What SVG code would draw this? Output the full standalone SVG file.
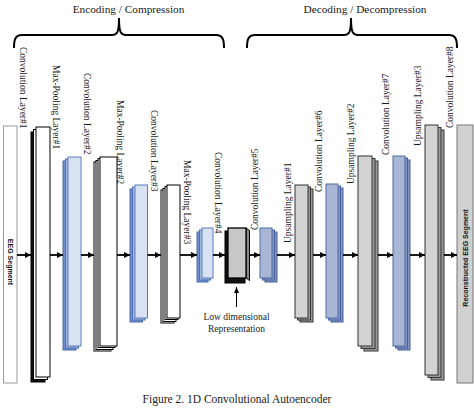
<svg xmlns="http://www.w3.org/2000/svg" width="474" height="408" viewBox="0 0 474 408">
<defs>
<marker id="ah" markerWidth="6" markerHeight="6" refX="6" refY="3" orient="auto" markerUnits="userSpaceOnUse"><path d="M0,0 L6,3 L0,6 z" fill="#000"/></marker>
<marker id="ah2" markerWidth="6" markerHeight="6" refX="6" refY="3" orient="auto" markerUnits="userSpaceOnUse"><path d="M0,0.5 L6,3 L0,5.5 z" fill="#000"/></marker>
</defs>
<style>
.t{font-family:"Liberation Serif","Times New Roman",serif;fill:#1a1a1a}
.title{font-size:11.3px;text-anchor:middle}
.lbl{font-size:9.5px}
.seg{font-family:"Liberation Sans",Arial,sans-serif;font-weight:bold;font-size:7px;text-anchor:middle;fill:#111}
.wb{fill:#fff;stroke:#000;stroke-width:1}
.bb{fill:#111;stroke:#000;stroke-width:1}
.bf{fill:#d9e2f2;stroke:#5a7bbf;stroke-width:1}
.bm{fill:#a3b7df;stroke:#4d6fb3;stroke-width:1}
.bk{fill:#6f8fce;stroke:#4a6aa8;stroke-width:1}
.gf{fill:#d3d3d3;stroke:#333;stroke-width:1}
.gk{fill:#9a9a9a;stroke:#333;stroke-width:1}
.cf{fill:#a9b6d3;stroke:#4f6aa5;stroke-width:1}
.ck{fill:#8394c0;stroke:#44609c;stroke-width:1}
.brace{fill:none;stroke:#000;stroke-width:2}
.conn line{stroke:#000;stroke-width:1.8}
</style>
<rect width="474" height="408" fill="#fff"/>

<g id="headers">
<text class="t title" x="128.5" y="12.5">Encoding / Compression</text>
<path class="brace" d="M14,48 C14,40 15,35 22,35 L112,35 C117,35 119,33 119,18 C119,33 121,35 126,35 L216,35 C223,35 224,40 224,48"/>
<text class="t title" x="365" y="13">Decoding / Decompression</text>
<path class="brace" d="M247,48 C247,40 248,35 255,35 L344,35 C349,35 351,33 351,18 C351,33 353,35 358,35 L449,35 C456,35 457,40 457,48"/>
</g>

<g id="labels" class="t lbl">
<text transform="translate(19.7,47) rotate(90)">Convolution Layer#1</text>
<text transform="translate(52.7,65) rotate(90)">Max-Pooling Layer#1</text>
<text transform="translate(83.7,73) rotate(90)">Convolution Layer#2</text>
<text transform="translate(116.7,100) rotate(90)">Max-Pooling Layer#2</text>
<text transform="translate(150.7,110) rotate(90)">Convolution Layer#3</text>
<text transform="translate(183.7,160) rotate(90)">Max-Pooling Layer#3</text>
<text transform="translate(214.7,152) rotate(90)">Convolution Layer#4</text>
<text transform="translate(258.3,230) rotate(-90)">Convolution Layer#5</text>
<text transform="translate(291.3,243) rotate(-90)">Upsampling Layer#1</text>
<text transform="translate(322.3,192) rotate(-90)">Convolution Layer#6</text>
<text transform="translate(353.8,184) rotate(-90)">Upsampling Layer#2</text>
<text transform="translate(389.3,155) rotate(-90)">Convolution Layer#7</text>
<text transform="translate(421.3,146) rotate(-90)">Upsampling Layer#3</text>
<text transform="translate(453.3,128) rotate(-90)">Convolution Layer#8</text>
</g>

<g id="input">
<rect x="3.5" y="126" width="13.5" height="257" fill="#fff" stroke="#999" stroke-width="1"/>
<text class="seg" transform="translate(8,262) rotate(90)">EEG Segment</text>
</g>

<g id="layer-b">
<rect class="bb" x="31" y="132" width="14" height="250"/>
<rect class="wb" x="33.5" y="129.5" width="14" height="250"/>
<rect class="wb" x="36" y="127" width="14" height="250"/>
</g>

<g id="layer-c">
<rect class="bk" x="63" y="161" width="13" height="189"/>
<rect class="bm" x="65.5" y="159" width="13" height="189"/>
<rect class="bf" x="68" y="157" width="13" height="189"/>
</g>

<g id="layer-d">
<rect class="wb" x="94" y="162" width="17" height="189"/>
<rect class="wb" x="96" y="160.5" width="17" height="189"/>
<rect class="wb" x="98" y="158.5" width="17" height="189"/>
<rect class="wb" x="100" y="157" width="17" height="189"/>
</g>

<g id="layer-e">
<rect class="bk" x="130" y="189" width="12.5" height="133"/>
<rect class="bm" x="132.5" y="187" width="12.5" height="133"/>
<rect class="bf" x="135" y="185" width="12.5" height="133"/>
</g>

<g id="layer-f">
<rect class="wb" x="161" y="190" width="13" height="133"/>
<rect class="wb" x="163" y="188.5" width="13" height="133"/>
<rect class="wb" x="165" y="186.5" width="13" height="133"/>
<rect class="wb" x="167" y="185" width="13" height="133"/>
</g>

<g id="layer-g">
<rect class="bk" x="197" y="232" width="11" height="50"/>
<rect class="bm" x="199.5" y="230" width="11" height="50"/>
<rect class="bf" x="202" y="228" width="11" height="50"/>
</g>

<g id="layer-h">
<rect class="bb" x="225" y="231" width="20" height="52"/>
<polygon points="246,228 249.5,230.5 249.5,280.5 246,278" fill="#8a8a8a" stroke="#000" stroke-width="1"/>
<rect x="228" y="228" width="18" height="50" fill="#c8c8c8" stroke="#000" stroke-width="1.3"/>
</g>

<g id="layer-i">
<rect class="ck" x="265" y="232" width="12" height="50"/>
<rect class="ck" x="262.5" y="230" width="12" height="50"/>
<rect class="cf" x="260" y="228" width="12" height="50"/>
</g>

<g id="layer-j">
<rect class="gk" x="300" y="189" width="13" height="133"/>
<rect class="gk" x="297.5" y="187" width="13" height="133"/>
<rect class="gf" x="295" y="185" width="13" height="133"/>
</g>

<g id="layer-k">
<rect class="ck" x="331" y="188" width="12" height="134"/>
<rect class="ck" x="328.5" y="186" width="12" height="134"/>
<rect class="cf" x="326" y="184" width="12" height="134"/>
</g>

<g id="layer-l">
<rect class="gk" x="364" y="161" width="14" height="190"/>
<rect class="gk" x="361" y="158.5" width="14" height="190"/>
<rect class="gf" x="358" y="156" width="14" height="190"/>
</g>

<g id="layer-m">
<rect class="ck" x="398" y="160" width="12" height="190"/>
<rect class="ck" x="395.5" y="158" width="12" height="190"/>
<rect class="cf" x="393" y="156" width="12" height="190"/>
</g>

<g id="layer-n">
<rect class="gk" x="431" y="130" width="13" height="250"/>
<rect class="gk" x="428" y="127.5" width="13" height="250"/>
<rect class="gf" x="425" y="125" width="13" height="250"/>
</g>

<g id="output">
<rect x="457" y="125" width="16" height="258" fill="#d0d0d0" stroke="#777" stroke-width="1"/>
<text class="seg" transform="translate(467.5,258) rotate(-90)">Reconstructed EEG Segment</text>
</g>

<g id="lowdim-note">
<text class="t" font-size="9.5" text-anchor="middle" x="236.5" y="319.5">Low dimensional</text>
<text class="t" font-size="9.5" text-anchor="middle" x="236.5" y="332">Representation</text>
</g>

<g id="connectors" class="conn">
<line x1="17" y1="255" x2="31" y2="255" marker-end="url(#ah)"/>
<line x1="50" y1="255" x2="63" y2="255" marker-end="url(#ah)"/>
<line x1="81" y1="255" x2="94" y2="255" marker-end="url(#ah)"/>
<line x1="117" y1="255" x2="130" y2="255" marker-end="url(#ah)"/>
<line x1="147.5" y1="255" x2="161" y2="255" marker-end="url(#ah)"/>
<line x1="180" y1="255" x2="197" y2="255" marker-end="url(#ah)"/>
<line x1="213" y1="255" x2="225" y2="255" marker-end="url(#ah)"/>
<line x1="249.5" y1="255" x2="260" y2="255" marker-end="url(#ah)"/>
<line x1="277" y1="255" x2="295" y2="255" marker-end="url(#ah)"/>
<line x1="313" y1="255" x2="326" y2="255" marker-end="url(#ah)"/>
<line x1="343" y1="255" x2="358" y2="255" marker-end="url(#ah)"/>
<line x1="378" y1="255" x2="393" y2="255" marker-end="url(#ah)"/>
<line x1="410" y1="255" x2="425" y2="255" marker-end="url(#ah)"/>
<line x1="444" y1="255" x2="457" y2="255" marker-end="url(#ah)"/>
<line x1="236.5" y1="307" x2="236.5" y2="287" style="stroke-width:1" marker-end="url(#ah2)"/>
</g>

<g id="caption">
<text class="t" font-size="11.5" text-anchor="middle" x="237" y="403">Figure 2. 1D Convolutional Autoencoder</text>
</g>
</svg>
